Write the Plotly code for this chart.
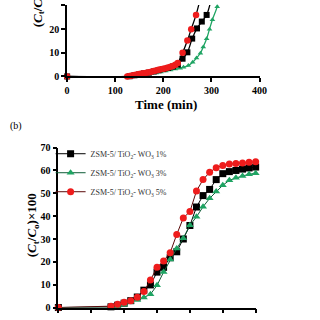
import plotly.graph_objects as go

# ---------- panel (a) data ----------
a_red_t = [0, 125, 130, 135, 140, 145, 150, 155, 160, 165, 170, 175, 180, 185, 190, 195,
           200, 205, 210, 215, 220, 225, 230, 240, 250, 258, 268, 278, 288]
a_red_v = [0, 0, 0.2, 0.4, 0.6, 0.8, 1.0, 1.2, 1.4, 1.6, 1.8, 2.0, 2.3, 2.5, 2.8, 3.0,
           3.3, 3.5, 3.8, 4.1, 4.4, 4.9, 5.7, 10, 15.2, 20, 26, 34, 44]
a_blk_t = [0, 130, 140, 150, 160, 170, 180, 190, 200, 210, 220, 230, 240, 250, 260,
           270, 280, 290, 300, 310]
a_blk_v = [0, 0.1, 0.5, 0.9, 1.3, 1.6, 2.1, 2.6, 3.1, 3.6, 4.2, 5.0, 7.5, 10.2, 16,
           20.3, 23.2, 26, 33, 42]
a_grn_t = [135, 145, 155, 165, 175, 185, 195, 205, 215, 225, 235, 242, 252, 261, 269,
           277, 283, 290, 296, 302, 312, 318]
a_grn_v = [0, 0.3, 0.6, 0.9, 1.2, 1.5, 1.9, 2.3, 2.7, 3.1, 3.5, 3.9, 4.6, 6.0, 7.8,
           9.8, 12.5, 15.9, 20, 24, 29.5, 36]

# ---------- panel (b) data ----------
b_t = [0, 160, 180, 200, 220, 240, 260, 280, 300, 320, 340, 360, 380, 400, 420, 440,
       460, 480, 500, 520, 540, 560, 580, 600]
b_1pct = [0, 0.3, 1.0, 1.9, 3.0, 4.6, 7.6, 9.9, 15.5, 17.6, 21.8, 24.4, 30, 35.9, 44,
          49, 51.7, 56, 58.6, 59.5, 60, 60.6, 61.1, 61.5]
b_3pct = [0, 0, 0.5, 1.2, 2.5, 3.3, 4.4, 5.8, 9.7, 15.5, 21, 25.8, 30.3, 36, 39.7,
          44.1, 47.8, 50.8, 53.5, 55.7, 56.8, 57.6, 58.3, 58.8]
b_5pct = [0, 0.6, 1.4, 2.3, 3.0, 4.5, 7.0, 12, 17.6, 20.4, 24, 32, 39.2, 42, 51, 56,
          59.2, 61.2, 62.2, 62.8, 63.1, 63.3, 63.6, 63.8]
legend_names = ["ZSM-5/ TiO<sub>2</sub>- WO<sub>3</sub> 1%",
                "ZSM-5/ TiO<sub>2</sub>- WO<sub>3</sub> 3%",
                "ZSM-5/ TiO<sub>2</sub>- WO<sub>3</sub> 5%"]

RED = "#ee1c1c"
GRN = "#1fa463"
BLK = "#000000"
SERIF = "Liberation Serif"

fig = go.Figure()

# panel (a)
fig.add_trace(go.Scatter(x=a_grn_t, y=a_grn_v, mode="lines+markers", line=dict(color=GRN, width=1.3, shape="spline"),
                         marker=dict(symbol="triangle-up", size=5, color=GRN), showlegend=False,
                         cliponaxis=False, xaxis="x", yaxis="y"))
fig.add_trace(go.Scatter(x=a_blk_t, y=a_blk_v, mode="lines+markers", line=dict(color=BLK, width=1.3, shape="spline"),
                         marker=dict(symbol="square", size=6, color=BLK), showlegend=False,
                         cliponaxis=False, xaxis="x", yaxis="y"))
fig.add_trace(go.Scatter(x=a_red_t, y=a_red_v, mode="lines+markers", line=dict(color=BLK, width=1.3, shape="spline"),
                         marker=dict(symbol="circle", size=6.5, color=RED), showlegend=False,
                         cliponaxis=False, xaxis="x", yaxis="y"))

# panel (b)
fig.add_trace(go.Scatter(x=b_t, y=b_1pct, mode="lines+markers", name=legend_names[0],
                         line=dict(color=BLK, width=1), marker=dict(symbol="square", size=7, color=BLK),
                         cliponaxis=False, xaxis="x2", yaxis="y2"))
fig.add_trace(go.Scatter(x=b_t, y=b_3pct, mode="lines+markers", name=legend_names[1],
                         line=dict(color="#0d5c36", width=1), marker=dict(symbol="triangle-up", size=7, color=GRN),
                         cliponaxis=False, xaxis="x2", yaxis="y2"))
fig.add_trace(go.Scatter(x=b_t, y=b_5pct, mode="lines+markers", name=legend_names[2],
                         line=dict(color="#5a0a0a", width=1), marker=dict(symbol="circle", size=7, color=RED),
                         cliponaxis=False, xaxis="x2", yaxis="y2"))

axis_common = dict(showline=True, linecolor="black", linewidth=1.5, ticks="outside", ticklen=4,
                   tickwidth=1.5, tickcolor="black", showgrid=False, zeroline=False,
                   tickfont=dict(family=SERIF, size=10, color="black", weight="bold"))

fig.update_layout(
    width=320, height=320, margin=dict(l=0, r=0, t=0, b=0),
    paper_bgcolor="white", plot_bgcolor="white",
    xaxis=dict(domain=[67/320, 265/320], range=[0, 400], dtick=100, anchor="y", **axis_common),
    yaxis=dict(domain=[1-74/320, 1], range=[0, 30.2], dtick=10, anchor="x", **axis_common),
    xaxis2=dict(domain=[58/320, 261/320], range=[0, 600], dtick=100, anchor="y2",
                showticklabels=False, **axis_common),
    yaxis2=dict(domain=[1-313.3/320, 1-147.7/320], range=[0, 70], dtick=10, anchor="x2", **axis_common),
    legend=dict(x=50/320, y=1-139/320, xanchor="left", yanchor="top", bgcolor="rgba(0,0,0,0)",
                font=dict(family=SERIF, size=8, color="#333333"), itemwidth=30, tracegroupgap=0),
    annotations=[
        dict(text="Time (min)", x=169/320, y=1-103/320, xref="paper", yref="paper", showarrow=False,
             xanchor="center", yanchor="middle",
             font=dict(family=SERIF, size=13, color="black", weight="bold")),
        dict(text="(b)", x=14/320, y=1-125/320, xref="paper", yref="paper", showarrow=False,
             xanchor="center", yanchor="middle",
             font=dict(family=SERIF, size=10, color="black")),
        dict(text="(<i>C</i><sub>t</sub>/<i>C</i><sub>o</sub>)×100", x=31/320, y=1-228/320,
             xref="paper", yref="paper", showarrow=False, textangle=-90,
             xanchor="center", yanchor="middle",
             font=dict(family=SERIF, size=13, color="black", weight="bold")),
        dict(text="(<i>C</i><sub>t</sub>/<i>C</i><sub>o</sub>)×100", x=37/320, y=1+10/320,
             xref="paper", yref="paper", showarrow=False, textangle=-90,
             xanchor="center", yanchor="middle",
             font=dict(family=SERIF, size=13, color="black", weight="bold")),
    ],
)

fig.write_html("out.html")
